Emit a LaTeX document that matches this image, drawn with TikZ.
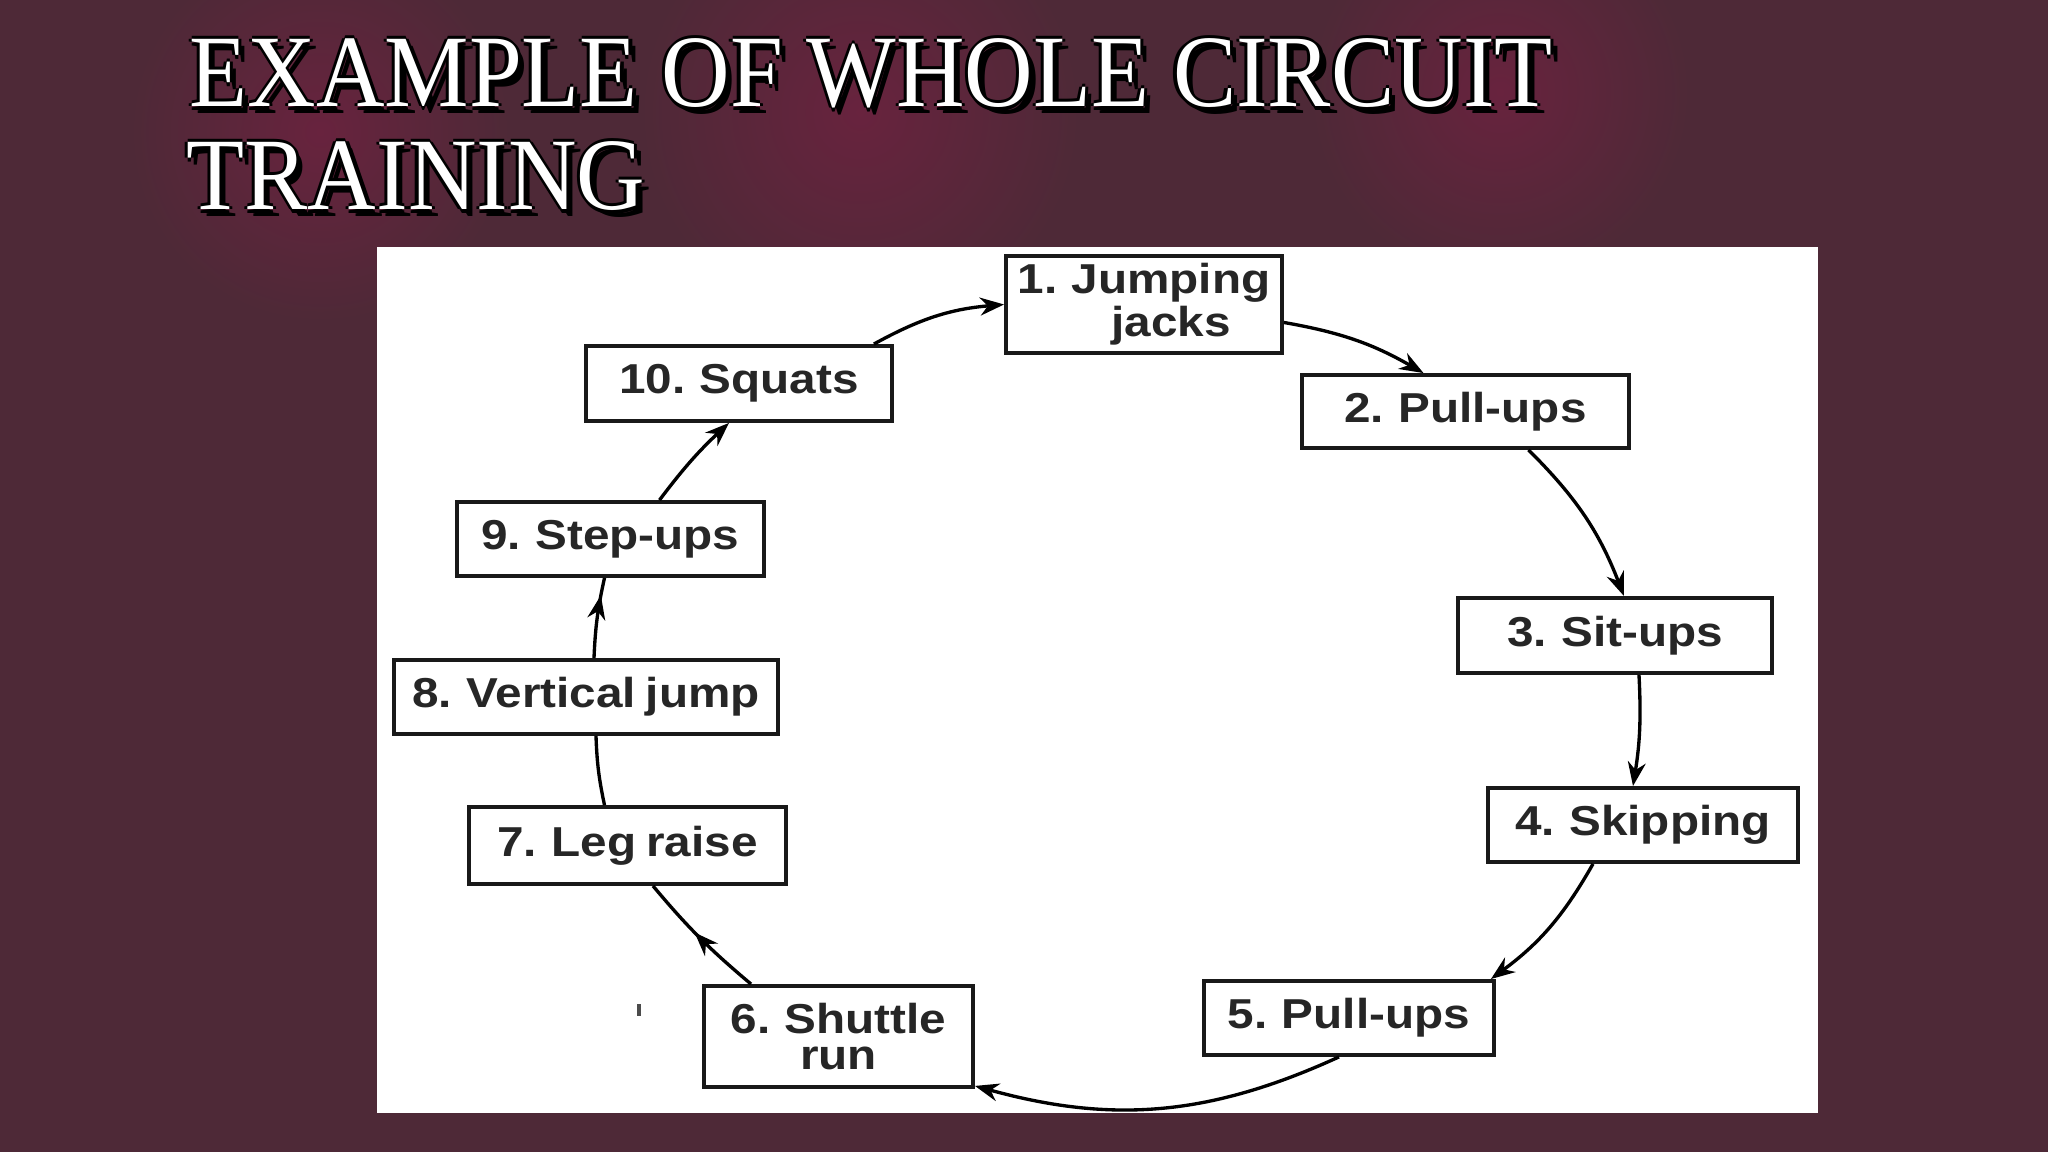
\documentclass[tikz,border=0pt]{standalone}
\usepackage{fontspec}
\setmainfont{Liberation Sans}
\newfontfamily\titlefont[FakeStretch=0.925]{Liberation Serif}
\newfontfamily\boxfont[FakeStretch=1.14, WordSpace=0.75]{Liberation Sans Bold}
\usetikzlibrary{arrows.meta, positioning, decorations.markings}

\definecolor{slidebg}{HTML}{4E2937}
\definecolor{slideglow}{HTML}{68233E}

\newcommand{\outlined}[1]{%
  \makebox[0pt][l]{\color{black}\hspace{1.8pt}\raisebox{-1.8pt}{#1}}%
  \makebox[0pt][l]{\color{black}\hspace{-0.9pt}#1}%
  \makebox[0pt][l]{\color{black}\hspace{0.9pt}#1}%
  \makebox[0pt][l]{\color{black}\raisebox{0.9pt}{#1}}%
  \makebox[0pt][l]{\color{black}\raisebox{-0.9pt}{#1}}%
  #1}

\begin{document}
\begin{tikzpicture}[
    station/.style={draw=black!90, line width=1.1pt, fill=white, inner sep=0pt, align=center,
      text=black!85, font=\boxfont\fontsize{11.9}{10.3}\selectfont},
    headline/.style={anchor=base west, inner sep=0pt, text=white,
      font=\titlefont\fontsize{29.2}{30}\selectfont},
    tipat/.style={postaction={decorate},
      decoration={markings, mark=at position #1 with {\arrow{>}}}},
    >={Stealth[length=2.4mm, width=1.8mm]}, line width=0.95pt]

% Hintergrund
\fill[slidebg] (0,0) rectangle (20.48,11.52);
\useasboundingbox (0,0) rectangle (20.48,11.52);
\shade[inner color=slideglow, outer color=slidebg] (3.2,10.2) circle (1.9);
\shade[inner color=slideglow, outer color=slidebg] (8.6,10.4) circle (2.2);
\shade[inner color=slideglow, outer color=slidebg] (15.0,10.6) circle (1.9);

% Titel
\node[headline] (T1) at (1.88,10.45) {\outlined{EXAMPLE OF WHOLE CIRCUIT}};
\node[headline] (T2) at (1.85,9.42) {\outlined{TRAINING}};

% Bild
\fill[white] (3.77,0.39) rectangle (18.18,9.05);

% Stationen
\node[station, minimum width=2.76cm, minimum height=0.97cm] (S1) at (11.44,8.475) {1. Jumping\\\phantom{1. }jacks};
\node[station, minimum width=3.27cm, minimum height=0.73cm] (S2) at (14.655,7.405) {2. Pull-ups};
\node[station, minimum width=3.14cm, minimum height=0.75cm] (S3) at (16.15,5.165) {3. Sit-ups};
\node[station, minimum width=3.10cm, minimum height=0.74cm] (S4) at (16.43,3.27) {4. Skipping};
\node[station, minimum width=2.90cm, minimum height=0.74cm] (S5) at (13.49,1.34) {5. Pull-ups};
\node[station, minimum width=2.69cm, minimum height=1.01cm] (S6) at (8.385,1.155) {6. Shuttle\\run};
\node[station, minimum width=3.17cm, minimum height=0.77cm] (S7) at (6.275,3.065) {7. Leg raise};
\node[station, minimum width=3.84cm, minimum height=0.74cm] (S8) at (5.86,4.55) {8. Vertical jump};
\node[station, minimum width=3.07cm, minimum height=0.74cm] (S9) at (6.105,6.13) {9. Step-ups};
\node[station, minimum width=3.06cm, minimum height=0.75cm] (S10) at (7.39,7.685) {10. Squats};

% Pfeile
\draw[->] ([xshift=-0.2cm]S10.north east) to[bend left=12] (S1.west);
\draw[->] ([yshift=-0.18cm]S1.east) to[bend left=10] ([xshift=-0.42cm]S2.north);
\draw[->] ([xshift=0.63cm]S2.south) to[bend left=12] ([xshift=0.09cm]S3.north);
\draw[->] ([xshift=0.24cm]S3.south) to[bend left=6] ([xshift=-0.10cm]S4.north);
\draw[->] ([xshift=-0.50cm]S4.south) to[bend left=12] ([xshift=-0.05cm]S5.north east);
\draw[->] ([xshift=-0.10cm]S5.south) to[bend left=20] ([yshift=0.03cm]S6.south east);
\draw[tipat=0.55] ([xshift=-0.875cm]S6.north) to[bend left=5] ([xshift=0.255cm]S7.south);
\draw ([xshift=-0.23cm]S7.north) to[bend left=5] ([xshift=0.10cm]S8.south);
\draw[tipat=0.78] ([xshift=0.08cm]S8.north) to[bend left=5] ([xshift=-0.06cm]S9.south);
\draw[->] ([xshift=0.49cm]S9.north) to[bend left=5] ([xshift=-0.10cm]S10.south);

% Strich
\draw[black!70, line width=1pt] (6.39,1.36) -- (6.39,1.48);

\end{tikzpicture}
\end{document}
